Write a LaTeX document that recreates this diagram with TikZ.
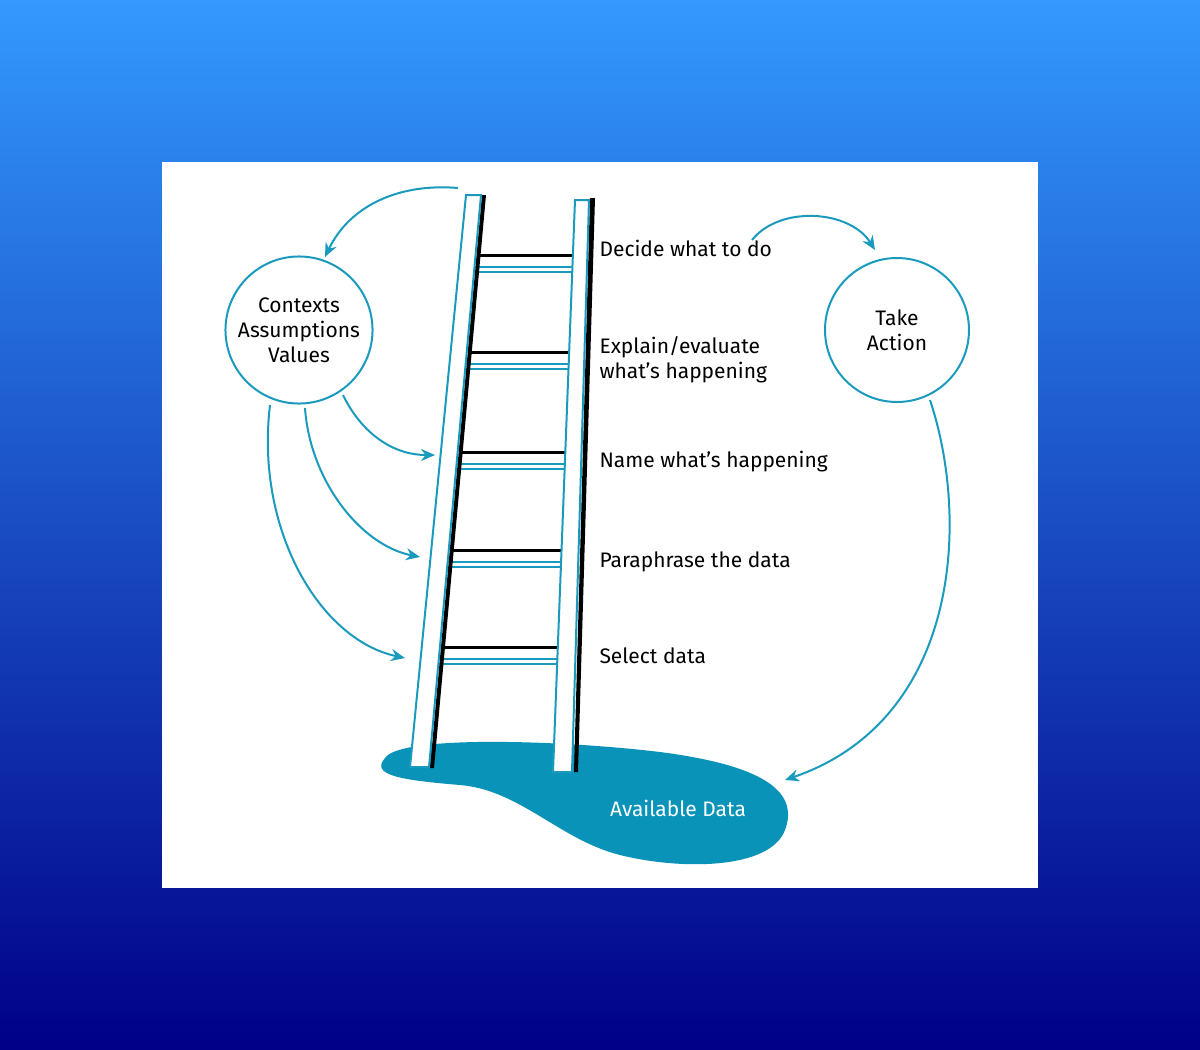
\documentclass[tikz,border=0pt]{standalone}
\usepackage{fontspec}
\setmainfont{Fira Sans}
\usetikzlibrary{arrows.meta}
\definecolor{cy}{HTML}{1A9BBE}
\definecolor{pud}{HTML}{0A93B8}
\definecolor{btop}{HTML}{3399FF}
\definecolor{bbot}{HTML}{000088}
\begin{document}
\begin{tikzpicture}[x=1pt,y=-1pt,
  lab/.style={anchor=west,font=\fontsize{21}{25}\selectfont,align=left},
  circ/.style={circle,draw=cy,line width=2pt,minimum size=144pt,font=\fontsize{21}{25}\selectfont,align=center},
  arr/.style={draw=cy,line width=2pt,-{Stealth[length=14pt,width=12pt]}},
  rail/.style={draw=cy,fill=white,line width=2pt},
  rung/.style={draw=cy,fill=white,line width=1.8pt}]
\useasboundingbox (0,0) rectangle (1200,1050);
\shade[top color=btop,bottom color=bbot] (0,0) rectangle (1200,1050);
\fill[white] (162,162) rectangle (1038,888);
% puddle
\fill[pud] (385,758) .. controls (400,735) and (560,740) .. (660,752)
  .. controls (760,765) and (800,790) .. (785,830)
  .. controls (770,870) and (680,870) .. (620,855)
  .. controls (560,840) and (520,790) .. (460,785)
  .. controls (400,780) and (370,775) .. (385,758) -- cycle;
\node[white,font=\fontsize{21}{25}\selectfont] (ad) at (678,808) {Available Data};
% rungs
\foreach \yt/\xl/\xr in {255/478/574, 352/468/570, 452/459/566, 550/450/561, 647/440/558}{
  \draw[black,line width=3pt] (\xl,\yt) -- (\xr,\yt);
  \draw[rung] (\xl-4,\yt+12) rectangle (\xr+1,\yt+17);
}
% rails
\fill[black] (482,195) -- (486,195) -- (434,768) -- (430,768) -- cycle;
\fill[black] (590,198) -- (595,198) -- (578,772) -- (574,772) -- cycle;
\draw[rail] (466,195) -- (481,195) -- (429,767) -- (410,767) -- cycle;
\draw[rail] (575,200) -- (589,200) -- (572,772) -- (553,772) -- cycle;
% circles
\node[circ] (cav) at (299,330) {Contexts\\Assumptions\\Values};
\node[circ] (ta) at (897,330) {Take\\Action};
% labels
\node[lab] (l1) at (596,248) {Decide what to do};
\node[lab,align=left] (l2) at (596,360) {Explain/evaluate\\what’s happening};
\node[lab] (l3) at (596,462) {Name what’s happening};
\node[lab] (l4) at (596,562) {Paraphrase the data};
\node[lab] (l5) at (596,656) {Select data};
% arrows
\coordinate (s1) at (458,188);
\coordinate (e0) at (325,257);
\coordinate (e1) at (435,455);
\coordinate (e2) at (420,557);
\coordinate (e3) at (405,658);
\coordinate (s4) at (752,240);
\coordinate (e5) at (785,780);
\draw[arr] (s1) .. controls (400,183) and (350,205) .. (e0);
\draw[arr] (343,395) .. controls (360,430) and (390,455) .. (e1);
\draw[arr] (305,408) .. controls (310,480) and (360,545) .. (e2);
\draw[arr] (270,405) .. controls (255,530) and (320,640) .. (e3);
\draw[arr] (s4) .. controls (780,205) and (850,210) .. (875,250);
\draw[arr] (930,400) .. controls (970,520) and (960,720) .. (e5);
\end{tikzpicture}
\end{document}
